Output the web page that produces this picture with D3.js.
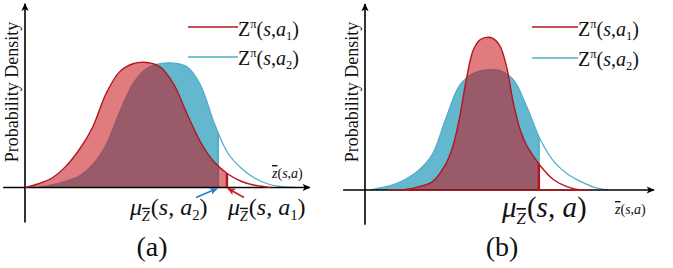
<!DOCTYPE html>
<html><head><meta charset="utf-8">
<script src="https://cdn.jsdelivr.net/npm/d3@7"></script>
<style>
body{margin:0;background:#fff}
svg{display:block}
</style>
</head><body>
<script>
// ---- data (z, density) ----
const redA = [[0,0],[0.5,0.03],[1,0.076],[1.5,0.167],[2,0.3],[2.5,0.48],[3,0.75],[3.5,0.925],[4,0.99],[4.5,1.0],[5,0.965],[5.5,0.83],[6,0.59],[6.5,0.364],[7,0.206],[7.5,0.11],[8,0.05],[8.5,0.018],[9,0.003],[9.1,0]];
const blueA = [[0.5,0],[1,0.02],[1.5,0.05],[2,0.09],[2.5,0.18],[3,0.34],[3.5,0.6],[4,0.83],[4.5,0.95],[5,0.99],[5.5,0.995],[6,0.965],[6.5,0.82],[7,0.52],[7.5,0.28],[8,0.156],[8.5,0.076],[9,0.028],[9.5,0.006],[10,0]];
const redB = [[0.85,0],[1,0],[1.5,0.005],[2,0.028],[2.5,0.07],[3,0.22],[3.25,0.36],[3.5,0.6],[3.75,0.917],[4,1.16],[4.25,1.25],[4.5,1.272],[4.75,1.262],[5,1.2],[5.25,1.02],[5.5,0.72],[5.75,0.5],[6,0.365],[6.5,0.2],[7,0.083],[7.5,0.026],[8,0],[8.26,0]];
const blueB = [[0.2,0],[0.5,0.015],[1,0.04],[1.5,0.09],[2,0.167],[2.5,0.3],[3,0.6],[3.5,0.87],[4,0.97],[4.5,1.0],[5,0.995],[5.5,0.917],[6,0.69],[6.5,0.417],[7,0.236],[7.5,0.133],[8,0.07],[8.5,0.022],[9,0]];
const muA = {red:7.48, blue:7.15};
const muB = 6.44;
const panelLabels = ["(a)","(b)"];
const legendSubs = ["1","2"];
const yAxisTitle = "Probability Density";

const W=673,H=268;
const FONT = "Liberation Serif";
const C = {redFill:"#c70f18", redLine:"#b3161e", blueFill:"#63b8cf", blueLine:"#52afc8", arrowBlue:"#2a80c6", arrowRed:"#c0232b"};

const svg=d3.select("body").append("svg").attr("width",W).attr("height",H);
const defs=svg.append("defs");
function marker(id,color,w,h){
  defs.append("marker").attr("id",id).attr("viewBox","0 0 10 10")
    .attr("refX",9).attr("refY",5).attr("markerWidth",w).attr("markerHeight",h)
    .attr("orient","auto").attr("markerUnits","userSpaceOnUse")
    .append("path").attr("d","M0,0.5 L10,5 L0,9.5 L2.5,5 Z").attr("fill",color);
}
marker("axArrow","#000",9,8);
marker("blueArrow",C.arrowBlue,8,8);
marker("redArrow",C.arrowRed,8,8);

function T(g,x,y,fs){
  return g.append("text").attr("x",x).attr("y",y).attr("font-size",fs+"px")
    .attr("font-family",FONT).attr("fill","#111");
}
function legendText(g,x,y,sub,fs){
  const t=T(g,x,y,fs);
  t.append("tspan").text("Z");
  t.append("tspan").attr("dy",-fs*0.38).attr("font-size",(fs*0.62)+"px").text("π");
  t.append("tspan").attr("dy",fs*0.38).text("(");
  t.append("tspan").attr("font-style","italic").text("s");
  t.append("tspan").text(",");
  t.append("tspan").attr("font-style","italic").text("a");
  t.append("tspan").attr("dy",fs*0.22).attr("font-size",(fs*0.62)+"px").text(sub);
  t.append("tspan").attr("dy",-fs*0.22).text(")");
}
function muText(g,x,y,sub,fs){
  const t=T(g,x,y,fs);
  t.append("tspan").attr("font-style","italic").text("μ");
  t.append("tspan").attr("dy",fs*0.24).attr("font-size",(fs*0.58)+"px").attr("font-style","italic")
    .attr("text-decoration","overline").text("Z");
  t.append("tspan").attr("dy",-fs*0.24).attr("dx",1).text("(");
  t.append("tspan").attr("font-style","italic").text("s");
  t.append("tspan").text(", ");
  t.append("tspan").attr("font-style","italic").text("a");
  if(sub){
    t.append("tspan").attr("dy",fs*0.22).attr("font-size",(fs*0.62)+"px").text(sub);
    t.append("tspan").attr("dy",-fs*0.22).text(")");
  } else t.append("tspan").text(")");
}
function zText(g,x,y,fs){
  const t=T(g,x,y,fs);
  t.append("tspan").attr("font-style","italic").attr("text-decoration","overline").text("z");
  t.append("tspan").text("(");
  t.append("tspan").attr("font-style","italic").text("s");
  t.append("tspan").text(",");
  t.append("tspan").attr("font-style","italic").text("a");
  t.append("tspan").text(")");
}

function drawPanel(id, x, y, red, blue, muRed, muBlue, opt){
  const g=svg.append("g");
  const cv=d3.curveCatmullRom.alpha(0.5);
  const area=d3.area().x(d=>x(d[0])).y0(y(0)).y1(d=>Math.min(y(0),y(d[1]))).curve(cv);
  const line=d3.line().x(d=>x(d[0])).y(d=>y(d[1])).curve(cv);
  defs.append("clipPath").attr("id",id+"cb").append("rect").attr("x",0).attr("y",0).attr("width",x(muBlue)).attr("height",H);
  defs.append("clipPath").attr("id",id+"cr").append("rect").attr("x",0).attr("y",0).attr("width",x(muRed)).attr("height",H);
  defs.append("clipPath").attr("id",id+"sb").append("path").attr("d",area(blue));
  defs.append("clipPath").attr("id",id+"sr").append("path").attr("d",area(red));
  defs.append("clipPath").attr("id",id+"up").append("rect").attr("x",0).attr("y",0).attr("width",W).attr("height",y(0)+0.5);

  g.append("path").attr("d",area(blue)).attr("fill",C.blueFill).attr("clip-path",`url(#${id}cb)`);
  g.append("line").attr("x1",x(muBlue)).attr("x2",x(muBlue)).attr("y1",y(0)).attr("y2",0)
    .attr("stroke",C.blueLine).attr("stroke-width",2).attr("clip-path",`url(#${id}sb)`);
  g.append("path").attr("d",line(blue)).attr("fill","none").attr("stroke",C.blueLine).attr("stroke-width",1.3)
    .attr("clip-path",`url(#${id}up)`);
  g.append("path").attr("d",area(red)).attr("fill",C.redFill).attr("fill-opacity",0.55).attr("clip-path",`url(#${id}cr)`);

  g.append("line").attr("x1",x(opt.xAxis[0])).attr("x2",x(opt.xAxis[1])).attr("y1",y(0)).attr("y2",y(0))
    .attr("stroke","#000").attr("stroke-width",1.6).attr("marker-end","url(#axArrow)");
  g.append("line").attr("x1",x(0)).attr("x2",x(0)).attr("y1",y(opt.yAxis[0])).attr("y2",y(opt.yAxis[1]))
    .attr("stroke","#000").attr("stroke-width",1.6).attr("marker-end","url(#axArrow)");

  g.append("line").attr("x1",x(muRed)).attr("x2",x(muRed)).attr("y1",y(0)).attr("y2",0)
    .attr("stroke",C.redLine).attr("stroke-width",2.4).attr("clip-path",`url(#${id}sr)`);
  if(opt.redOutline){
    g.append("path").attr("d",area(red)).attr("fill","none").attr("stroke",C.redLine).attr("stroke-width",1.4);
  } else {
    g.append("path").attr("d",line(red)).attr("fill","none").attr("stroke",C.redLine).attr("stroke-width",1.4)
      .attr("clip-path",`url(#${id}up)`);
  }
  return g;
}

// ---- panel (a) ----
const xA=d3.scaleLinear().domain([0,10]).range([25,295]);
const yA=d3.scaleLinear().domain([0,1]).range([187.5,62.5]);
drawPanel("pa",xA,yA,redA,blueA,muA.red,muA.blue,{xAxis:[-0.81,10.55],yAxis:[-0.28,1.47],redOutline:false});

// ---- panel (b) ----
const xB=d3.scaleLinear().domain([0,10]).range([365,635]);
const yB=d3.scaleLinear().domain([0,1]).range([190,70]);
drawPanel("pb",xB,yB,redB,blueB,muB,muB,{xAxis:[-0.81,10.7],yAxis:[-0.29,1.55],redOutline:true});

// y-axis titles
[[12,92],[352,92]].forEach(([cx,cy])=>{
  T(svg,0,0,18).attr("transform",`translate(${cx},${cy}) rotate(-90)`).attr("text-anchor","middle")
    .attr("dy","0.35em").text(yAxisTitle);
});

// legends
[[188,238,27,57],[532,578,27,58]].forEach(([x1,x2,y1,y2])=>{
  svg.append("line").attr("x1",x1).attr("x2",x2).attr("y1",y1).attr("y2",y1).attr("stroke",C.redLine).attr("stroke-width",1.4);
  svg.append("line").attr("x1",x1).attr("x2",x2).attr("y1",y2).attr("y2",y2).attr("stroke",C.blueLine).attr("stroke-width",1.4);
  legendText(svg,x2,y1+9,legendSubs[0],20);
  legendText(svg,x2,y2+8,legendSubs[1],20);
});

// mu labels and arrows (a)
muText(svg,130,215,"2",24);
muText(svg,228,215,"1",24);
svg.append("line").attr("x1",xA(muA.blue)-22).attr("y1",yA(0)+10).attr("x2",xA(muA.blue)-1).attr("y2",yA(0)+1)
  .attr("stroke",C.arrowBlue).attr("stroke-width",1.8).attr("marker-end","url(#blueArrow)");
svg.append("line").attr("x1",xA(muA.red)+17).attr("y1",yA(0)+10).attr("x2",xA(muA.red)+1).attr("y2",yA(0)+1)
  .attr("stroke",C.arrowRed).attr("stroke-width",1.8).attr("marker-end","url(#redArrow)");
zText(svg,272,178,14);

// mu label (b)
muText(svg,502,217,null,29);
zText(svg,615,214,14);

// panel letters
T(svg,152,256,28).attr("text-anchor","middle").text(panelLabels[0]);
T(svg,502,256,28).attr("text-anchor","middle").text(panelLabels[1]);
</script>
</body></html>
